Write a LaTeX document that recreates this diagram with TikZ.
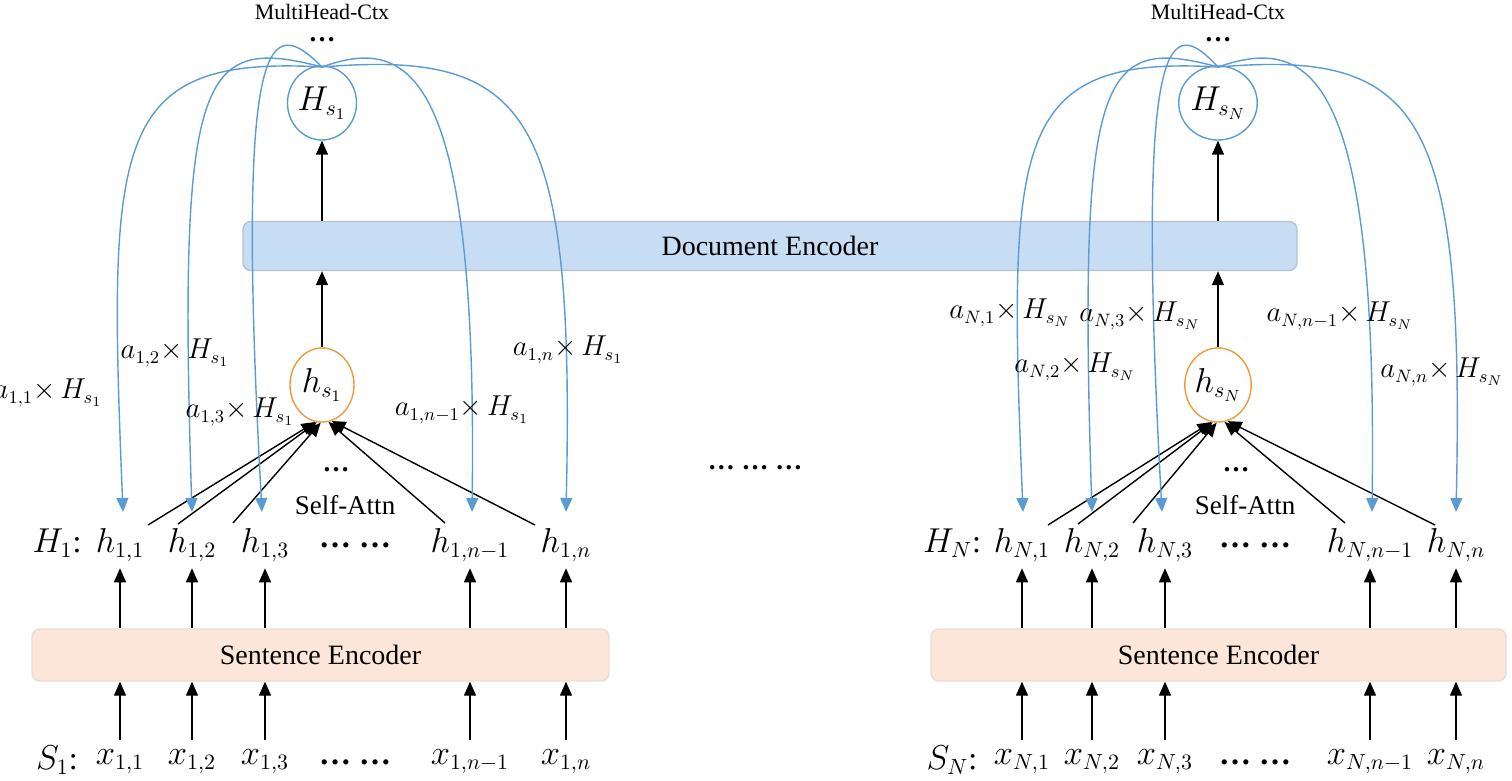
\documentclass[tikz,border=0pt]{standalone}
\usepackage{fontspec}
\setmainfont{Liberation Serif}
\usetikzlibrary{arrows.meta,shapes.geometric}
\definecolor{bl}{HTML}{5B9BD5}
\definecolor{orn}{HTML}{ED9A3A}
\definecolor{docf}{HTML}{C7DDF4}
\definecolor{docb}{HTML}{B9C2CC}
\definecolor{senf}{HTML}{FCE6DA}
\definecolor{senb}{HTML}{E8DCD6}
\newcommand{\dd}{{\bfseries\ldots}}
\begin{document}
\begin{tikzpicture}[x=0.5pt,y=-0.5pt,
  blk/.style={-{Triangle[length=7pt,width=6pt]},line width=0.7pt},
  blu/.style={-{Triangle[length=7pt,width=6pt]},line width=0.7pt,draw=bl},
  row/.style={font=\fontsize{16}{18}\selectfont,inner sep=1pt},
  lab/.style={font=\fontsize{13.5}{15}\selectfont,inner sep=1pt},
  txt/.style={font=\fontsize{11}{13}\selectfont,inner sep=1pt},
  circ/.style={ellipse,inner sep=0pt,minimum width=32pt,minimum height=37pt,line width=0.7pt,font=\fontsize{16}{18}\selectfont},
  enc/.style={rounded corners=4pt,line width=0.7pt,font=\fontsize{14}{16}\selectfont}]
\useasboundingbox (0,0) rectangle (1512,781);
\node[enc,fill=docf,draw=docb,minimum width=527pt,minimum height=24.5pt] (doc) at (770,246) {Document Encoder};
\node[enc,fill=senf,draw=senb,minimum width=288.5pt,minimum height=26pt] (senL) at (320.5,655) {Sentence Encoder};
\node[enc,fill=senf,draw=senb,minimum width=287.5pt,minimum height=26pt] (senR) at (1218.5,655) {Sentence Encoder};
\node[lab] (dotsmid) at (755,468) {\dd\ \dd\ \dd};

% ---------- left
\node[circ,draw=bl] (HL) at (322,103) {$H_{s_1}$};
\node[circ,draw=orn] (hL) at (322,385) {$h_{s_1}$};
\node[txt] (mhL) at (322,12) {MultiHead-Ctx};
\node[lab] (tdL) at (322,40) {\dd};
\draw[blk] (doc.north -| HL) -- (HL.south);
\draw[blk] (hL.north) -- (doc.south -| hL);
\node[row] (HrowL) at (57,543) {$H_1$:};
\node[row] (SrowL) at (57,760) {$S_1$:};
\node[row] (hL1) at (120,545) {$h_{1,1}$};
\node[row] (hL2) at (192,545) {$h_{1,2}$};
\node[row] (hL3) at (265,545) {$h_{1,3}$};
\node[row] (hLd) at (355,545) {\dd\ \dd};
\node[row] (hL4) at (470,545) {$h_{1,n-1}$};
\node[row] (hL5) at (566,545) {$h_{1,n}$};
\node[row] (xL1) at (120,762) {$x_{1,1}$};
\node[row] (xL2) at (192,762) {$x_{1,2}$};
\node[row] (xL3) at (265,762) {$x_{1,3}$};
\node[row] (xLd) at (355,762) {\dd\ \dd};
\node[row] (xL4) at (470,762) {$x_{1,n-1}$};
\node[row] (xL5) at (566,762) {$x_{1,n}$};
\foreach \i in {1,2,3,4,5}{
  \draw[blk] (senL.north -| hL\i) -- +(0,-60);
  \draw[blk] (senL.south -| xL\i) ++(0,58) -- (senL.south -| xL\i);
}
\coordinate (sL1) at (148,525); \coordinate (sL2) at (178,524);
\coordinate (sL3) at (233,523); \coordinate (sL4) at (445,523);
\coordinate (sL5) at (535,525);
\foreach \i/\e in {1/-100,2/-98,3/-92,4/-80,5/-75}
  \draw[blk] (sL\i) -- (hL.{\e});
\node[lab] (saL) at (345,505) {Self-Attn};
\node[lab] (sdL) at (336,470) {\dd};
\coordinate (tL) at (322,67);
\draw[blu] (tL) .. controls (110,55) and (108,140) .. (123,512);
\draw[blu] (tL) .. controls (200,35) and (178,70) .. (192,512);
\draw[blu] (tL) .. controls (270,15) and (235,20) .. (262,512);
\draw[blu] (tL) .. controls (410,35) and (478,70) .. (472,512);
\draw[blu] (tL) .. controls (530,50) and (575,110) .. (566,512);
\node[lab] (aL1) at (48,393) {$a_{1,1}{\times}\,H_{s_1}$};
\node[lab] (aL2) at (175,353) {$a_{1,2}{\times}\,H_{s_1}$};
\node[lab] (aL3) at (240,412) {$a_{1,3}{\times}\,H_{s_1}$};
\node[lab] (aL4) at (462,410) {$a_{1,n-1}{\times}\,H_{s_1}$};
\node[lab] (aL5) at (568,350) {$a_{1,n}{\times}\,H_{s_1}$};

% ---------- right
\node[circ,draw=bl] (HR) at (1218,103) {$H_{s_N}$};
\node[circ,draw=orn] (hR) at (1218,385) {$h_{s_N}$};
\node[txt] (mhR) at (1218,12) {MultiHead-Ctx};
\node[lab] (tdR) at (1218,40) {\dd};
\draw[blk] (doc.north -| HR) -- (HR.south);
\draw[blk] (hR.north) -- (doc.south -| hR);
\node[row] (HrowR) at (952,543) {$H_N$:};
\node[row] (SrowR) at (952,760) {$S_N$:};
\node[row] (hR1) at (1022,545) {$h_{N,1}$};
\node[row] (hR2) at (1092,545) {$h_{N,2}$};
\node[row] (hR3) at (1165,545) {$h_{N,3}$};
\node[row] (hRd) at (1255,545) {\dd\ \dd};
\node[row] (hR4) at (1370,545) {$h_{N,n-1}$};
\node[row] (hR5) at (1456,545) {$h_{N,n}$};
\node[row] (xR1) at (1022,762) {$x_{N,1}$};
\node[row] (xR2) at (1092,762) {$x_{N,2}$};
\node[row] (xR3) at (1165,762) {$x_{N,3}$};
\node[row] (xRd) at (1255,762) {\dd\ \dd};
\node[row] (xR4) at (1370,762) {$x_{N,n-1}$};
\node[row] (xR5) at (1456,762) {$x_{N,n}$};
\foreach \i in {1,2,3,4,5}{
  \draw[blk] (senR.north -| hR\i) -- +(0,-60);
  \draw[blk] (senR.south -| xR\i) ++(0,58) -- (senR.south -| xR\i);
}
\coordinate (sR1) at (1048,525); \coordinate (sR2) at (1078,524);
\coordinate (sR3) at (1133,523); \coordinate (sR4) at (1345,523);
\coordinate (sR5) at (1435,525);
\foreach \i/\e in {1/-100,2/-98,3/-92,4/-80,5/-75}
  \draw[blk] (sR\i) -- (hR.{\e});
\node[lab] (saR) at (1245,505) {Self-Attn};
\node[lab] (sdR) at (1236,470) {\dd};
\coordinate (tR) at (1218,67);
\draw[blu] (tR) .. controls (1010,55) and (1008,140) .. (1023,512);
\draw[blu] (tR) .. controls (1100,35) and (1078,70) .. (1092,512);
\draw[blu] (tR) .. controls (1170,15) and (1135,20) .. (1162,512);
\draw[blu] (tR) .. controls (1310,35) and (1378,70) .. (1372,512);
\draw[blu] (tR) .. controls (1420,50) and (1465,110) .. (1456,512);
\node[lab] (aR1) at (1010,313) {$a_{N,1}{\times}\,H_{s_N}$};
\node[lab] (aR2) at (1075,367) {$a_{N,2}{\times}\,H_{s_N}$};
\node[lab] (aR3) at (1140,316) {$a_{N,3}{\times}\,H_{s_N}$};
\node[lab] (aR4) at (1340,316) {$a_{N,n-1}{\times}\,H_{s_N}$};
\node[lab] (aR5) at (1442,372) {$a_{N,n}{\times}\,H_{s_N}$};
\end{tikzpicture}
\end{document}
